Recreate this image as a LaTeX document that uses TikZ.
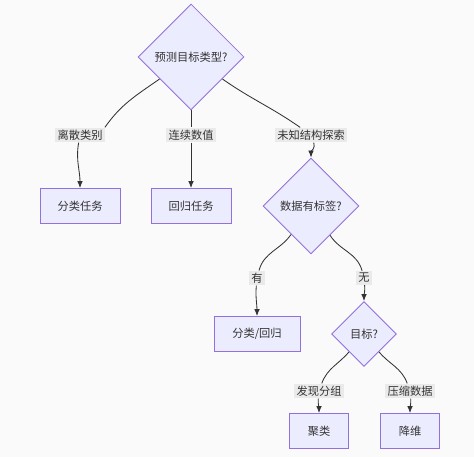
\documentclass[tikz,border=0pt]{standalone}
\usepackage{fontspec}
\setmainfont{Noto Sans CJK SC}
\usepackage{tikz}
\usetikzlibrary{arrows.meta,shapes.geometric}
\definecolor{nodefill}{HTML}{ECECFF}
\definecolor{nodeline}{HTML}{9370DB}
\definecolor{edgeline}{HTML}{333333}
\definecolor{lblbg}{HTML}{E8E8E8}
\definecolor{pagebg}{HTML}{FAFAFA}
\tikzset{
  box/.style={draw=nodeline,fill=nodefill,line width=0.6pt,minimum height=0.875cm,inner sep=0pt},
  choice/.style={diamond,aspect=1,draw=nodeline,fill=nodefill,line width=0.6pt,inner sep=0pt},
  lbl/.style={fill=lblbg,fill opacity=0.85,text opacity=1,inner sep=1.5pt},
  link/.style={draw=edgeline,line width=0.6pt},
}

\begin{document}
\begin{tikzpicture}[x=0.025cm,y=0.025cm,>={Latex[length=5pt,width=4pt]},font=\fontsize{8}{10}\selectfont,text=edgeline]
  \fill[pagebg] (0,0) rectangle (474,-457);
  \useasboundingbox (0,0) rectangle (474,-457);
  % decisions
  \node[choice,minimum width=2.65cm,minimum height=2.65cm] (kind) at (191,-57) {预测目标类型?};
  \node[choice,minimum width=2.4cm,minimum height=2.4cm] (tagged) at (311,-206) {数据有标签?};
  \node[choice,minimum width=1.625cm,minimum height=1.625cm] (goal) at (364,-334) {目标?};
  % tasks
  \node[box,minimum width=2cm] (clsf) at (80,-206) {分类任务};
  \node[box,minimum width=2cm] (regr) at (191,-206) {回归任务};
  \node[box,minimum width=2.15cm] (both) at (257,-334) {分类/回归};
  \node[box,minimum width=1.475cm] (clus) at (319,-431) {聚类};
  \node[box,minimum width=1.475cm] (dimr) at (410,-431) {降维};
  % edge labels
  \node[lbl] (ldisc) at (80,-135) {离散类别};
  \node[lbl] (lcont) at (191,-135) {连续数值};
  \node[lbl] (lexpl) at (311,-135) {未知结构探索};
  \node[lbl] (lyes) at (257,-278) {有};
  \node[lbl] (lno) at (364,-278) {无};
  \node[lbl] (lgrp) at (319,-391) {发现分组};
  \node[lbl] (lcmp) at (410,-391) {压缩数据};
  % connectors
  \draw[link] (kind) to[out=-145,in=55] (ldisc.north east);
  \draw[link,->] (ldisc) to[out=-100,in=90] (clsf);
  \draw[link] (kind) -- (lcont);
  \draw[link,->] (lcont) -- (regr);
  \draw[link] (kind) to[out=-35,in=145] (lexpl);
  \draw[link,->] (lexpl) to[out=-70,in=90] (tagged);
  \draw[link] (tagged) to[out=-125,in=75] (lyes);
  \draw[link,->] (lyes) to[out=-95,in=90] (both);
  \draw[link] (tagged) to[out=-57,in=105] (lno);
  \draw[link,->] (lno) to[out=-85,in=90] (goal);
  \draw[link] (goal) to[out=-130,in=70] (lgrp);
  \draw[link,->] (lgrp) to[out=-95,in=90] (clus);
  \draw[link] (goal) to[out=-50,in=110] (lcmp);
  \draw[link,->] (lcmp) to[out=-85,in=90] (dimr);
\end{tikzpicture}
\end{document}
